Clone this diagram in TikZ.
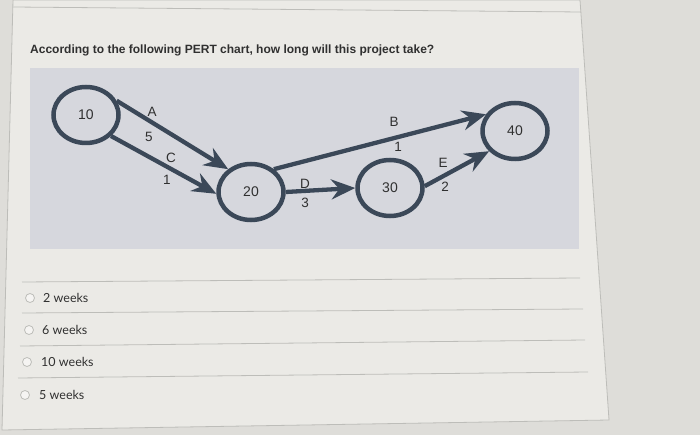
\documentclass[tikz,border=0pt]{standalone}
\usepackage{fontspec}
\setmainfont{Liberation Sans}
\newfontfamily\latofont{Lato}
\usepackage{tikz}
\usetikzlibrary{positioning,%
  arrows.meta,%
  shapes.geometric
}
\definecolor{seite}{HTML}{DEDDD9}
\definecolor{karte}{HTML}{EBEAE6}
\definecolor{feld}{HTML}{D6D7DD}
\definecolor{pfeil}{HTML}{3B4858}
\definecolor{rand}{HTML}{BDBDB9}
\definecolor{schrift}{HTML}{303030}

\begin{document}
\begin{tikzpicture}
                    [
                        x=1pt, y=-1pt,
                        every node/.style={text=schrift},
                        ereignis/.style={draw=pfeil, ellipse, line width=4.5pt, fill=feld, minimum width=65pt, minimum height=56pt, inner sep=0pt, font=\fontsize{14}{16}\selectfont},
                        vorgang/.style={draw=pfeil, line width=4.3pt, -{Stealth[length=24pt,width=20pt,inset=8pt]}},
                        marke/.style={inner sep=0pt, font=\fontsize{13.5}{16}\selectfont},
                        antwort/.style={anchor=west, inner sep=0pt, font=\latofont\fontsize{12.5}{15}\selectfont},
                        knopf/.style={circle, draw=rand, fill=karte!50!white, line width=.8pt, minimum size=9pt, inner sep=0pt},
                        trenner/.style={draw=rand, line width=.8pt}
                    ]
                    
                    % Rahmen
                    \useasboundingbox (0,0) rectangle (700,435);
                    \fill[seite] (0,0) rectangle (700,435);
                    \filldraw[fill=karte, draw=rand, line width=.8pt] (13,0) -- (580,0) -- (609,420) -- (2,430) -- cycle;
                    \draw[trenner] (13,7) -- (581,12);
                    
                    % Frage
                    \node[anchor=west, inner sep=0pt, font=\bfseries\fontsize{12}{14}\selectfont] (frage) at (30,50)
                        {According to the following PERT chart, how long will this project take?};
                    
                    % Netzplan
                    \fill[feld] (30,68) rectangle (579,249);
                    \node[ereignis] (e10) at (86,115) {10};
                    \node[ereignis] (e20) at (251,192) {20};
                    \node[ereignis] (e30) at (390,188) {30};
                    \node[ereignis] (e40) at (515,131) {40};
                    
                    \draw[vorgang] (e10.25) -- (e20.135);
                    \draw[vorgang] (e10.-40) -- (e20.183);
                    \draw[vorgang] (e20.45) -- (e40.150);
                    \draw[vorgang] (e20.0) -- (e30.180);
                    \draw[vorgang] (e30.3) -- (e40.218);
                    
                    \node[marke] (mA) at (152,112) {A};
                    \node[marke] (dA) at (149,137) {5};
                    \node[marke] (mC) at (171,158) {C};
                    \node[marke] (dC) at (167,180) {1};
                    \node[marke] (mB) at (394,122) {B};
                    \node[marke] (dB) at (398,147) {1};
                    \node[marke] (mD) at (305,184) {D};
                    \node[marke] (dD) at (305,203) {3};
                    \node[marke] (mE) at (443,163) {E};
                    \node[marke] (dE) at (445,187) {2};
                    
                    % Antworten
                    \draw[trenner] (22,282) -- (580,278);
                    \draw[trenner] (22,313) -- (583,309);
                    \draw[trenner] (20,346) -- (585,340);
                    \draw[trenner] (18,378) -- (588,372);
                    
                    \node[knopf] (k1) at (30,298) {};
                    \node[antwort] (a1) at (43,298) {2 weeks};
                    \node[knopf] (k2) at (29,330) {};
                    \node[antwort] (a2) at (42,330) {6 weeks};
                    \node[knopf] (k3) at (27,362) {};
                    \node[antwort] (a3) at (41,362) {10 weeks};
                    \node[knopf] (k4) at (25,395) {};
                    \node[antwort] (a4) at (39,395) {5 weeks};
                \end{tikzpicture}
\end{document}
